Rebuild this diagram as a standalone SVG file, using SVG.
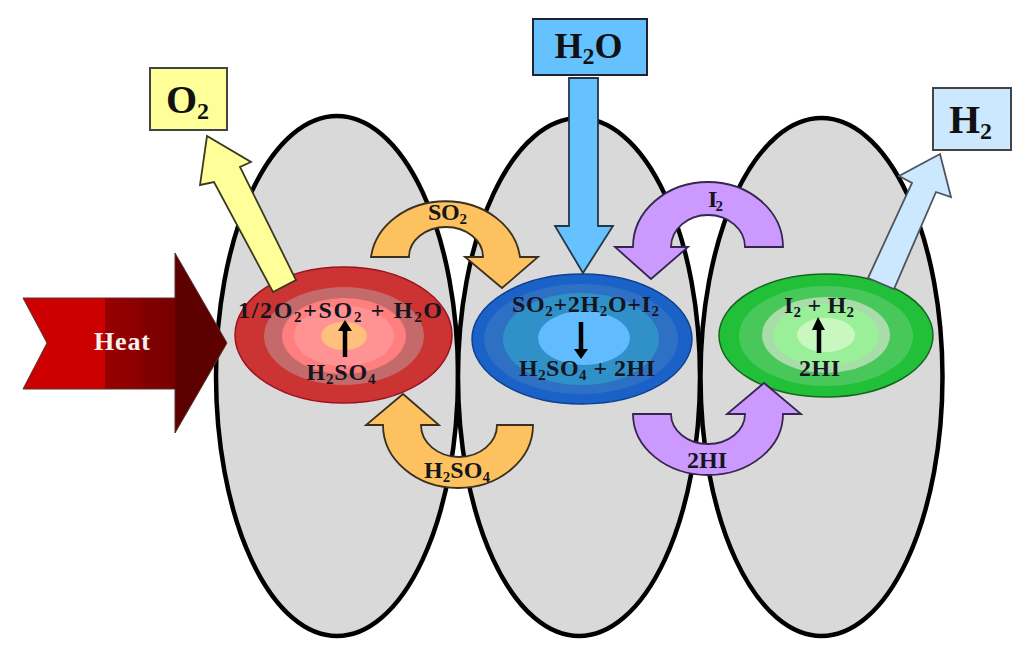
<svg xmlns="http://www.w3.org/2000/svg" width="1034" height="652" viewBox="0 0 1034 652">
<style>
text{font-family:"Liberation Serif","Times New Roman",serif;text-anchor:middle;fill:#15151f;font-weight:bold}
.big{fill:#d9d9d9;stroke:#000;stroke-width:4.5}
.l{font-size:24px}
.sub{font-size:15px}
.box{font-size:36px;fill:#111}
.boxs{font-size:24px}
.big2{font-size:40px}
.or{fill:#fdc25f;stroke:#3a3020;stroke-width:1.8}
.pu{fill:#cc99ff;stroke:#35264f;stroke-width:1.8}
.mini{stroke:#000;stroke-width:4.5;fill:none}
</style>
<defs>
<linearGradient id="heatg" gradientUnits="userSpaceOnUse" x1="23" y1="0" x2="227" y2="0">
<stop offset="0" stop-color="#cc0000"/><stop offset=".4" stop-color="#cc0000"/>
<stop offset=".405" stop-color="#960000"/><stop offset=".56" stop-color="#8c0000"/>
<stop offset=".61" stop-color="#800000"/><stop offset=".74" stop-color="#780000"/>
<stop offset=".75" stop-color="#5c0000"/><stop offset="1" stop-color="#5c0000"/>
</linearGradient>
</defs>
<rect width="1034" height="652" fill="#fff"/>
<g id="vessel-left"><ellipse class="big" cx="337" cy="376" rx="121" ry="260"/></g>
<g id="vessel-middle"><ellipse class="big" cx="579" cy="377" rx="121" ry="259"/></g>
<g id="vessel-right"><ellipse class="big" cx="821.5" cy="377" rx="121" ry="259"/></g>

<g id="reaction-red">
<ellipse cx="343.500" cy="335" rx="108.500" ry="68" fill="#cc3333" stroke="#a01020" stroke-width="1.500"/>
<ellipse cx="344" cy="336" rx="80" ry="49" fill="#c46a6a"/>
<ellipse cx="344" cy="336" rx="62" ry="38" fill="#ff7f7f"/>
<ellipse cx="344" cy="336" rx="50" ry="30" fill="#ff9393"/>
<ellipse cx="344" cy="336" rx="23" ry="14" fill="#ffc07c"/>
<text class="l" x="340" y="318" textLength="204">1/2O<tspan class="sub" dy="4">2</tspan><tspan dy="-4">+SO</tspan><tspan class="sub" dy="4">2</tspan><tspan dy="-4" xml:space="preserve"> + H</tspan><tspan class="sub" dy="4">2</tspan><tspan dy="-4">O</tspan></text>
<path class="mini" d="M345,357V326"/><path d="M338,331L345,320L352,331Z" fill="#000"/>
<text class="l" x="341" y="380" textLength="69">H<tspan class="sub" dy="4">2</tspan><tspan dy="-4">SO</tspan><tspan class="sub" dy="4">4</tspan></text>
</g>
<g id="reaction-blue">
<ellipse cx="582" cy="339" rx="110" ry="65" fill="#1a62c8" stroke="#0f4090" stroke-width="1.500"/>
<ellipse cx="581" cy="339" rx="97" ry="55" fill="#2d70c4"/>
<ellipse cx="581" cy="339" rx="78" ry="46" fill="#3090c8"/>
<ellipse cx="584" cy="338" rx="46" ry="27" fill="#60bcff"/>
<text class="l" x="585.500" y="312" textLength="147">SO<tspan class="sub" dy="4">2</tspan><tspan dy="-4">+2H</tspan><tspan class="sub" dy="4">2</tspan><tspan dy="-4">O+I</tspan><tspan class="sub" dy="4">2</tspan></text>
<path class="mini" d="M581,322V350"/><path d="M574,349L581,359L588,349Z" fill="#000"/>
<text class="l" x="587" y="376" textLength="136">H<tspan class="sub" dy="4">2</tspan><tspan dy="-4">SO</tspan><tspan class="sub" dy="4">4</tspan><tspan dy="-4" xml:space="preserve"> + 2HI</tspan></text>
</g>
<g id="reaction-green">
<ellipse cx="826" cy="335.500" rx="107" ry="61.500" fill="#22c038" stroke="#14661e" stroke-width="1.500"/>
<ellipse cx="826" cy="336" rx="87" ry="50" fill="#48c85a"/>
<ellipse cx="826" cy="335" rx="64" ry="38" fill="#a8dca8"/>
<ellipse cx="826" cy="335" rx="53" ry="31" fill="#99f099"/>
<ellipse cx="826" cy="335" rx="29" ry="17" fill="#c8f8c0"/>
<text class="l" x="819" y="313" textLength="70">I<tspan class="sub" dy="4">2</tspan><tspan dy="-4" xml:space="preserve"> + H</tspan><tspan class="sub" dy="4">2</tspan></text>
<path class="mini" d="M819,353V326"/><path d="M812,330L818,317L825,330Z" fill="#000"/>
<text class="l" x="819.500" y="376" textLength="41">2HI</text>
</g>

<g id="connectors">
<path d="M23,298H175V253L227,343L175,433V389H23L47,343Z" fill="url(#heatg)" stroke="#5a3030" stroke-width="1"/>
<path d="M273,292L296,280L240,167L251,162L207,136L200,185L214,182Z" fill="#ffff99" stroke="#3a3a20" stroke-width="1.800"/>
<path d="M569,78H598V226H613L583,273L555,226H569Z" fill="#66c2ff" stroke="#22384a" stroke-width="1.800"/>
<path d="M868,278L894,289L936,192L951,197L940,154L899,176L912,183Z" fill="#cce8ff" stroke="#4a5560" stroke-width="1.800"/>
<path class="or" d="M371,257A75,63 0 0 1 520,257H538L502,288L465,257H483A37,30 0 0 0 409,257Z"/>
<path class="or" d="M533,425A75,63 0 0 1 383,425H366L403,394L439,425H421A38,32 0 0 0 497,425Z"/>
<path class="pu" d="M783,247A75,65 0 0 0 633,247H615L651,279L688,247H671A37,32 0 0 1 745,247Z"/>
<path class="pu" d="M633,414A75,61 0 0 0 783,414H801L764,383L727,414H745A37,30 0 0 1 671,414Z"/>
</g>

<g id="label-heat"><text x="122" y="350" font-size="26" textLength="56" style="fill:#f8f0f0">Heat</text></g>
<g id="label-so2"><text class="l" x="447.500" y="220" textLength="39">SO<tspan class="sub" dy="4">2</tspan></text></g>
<g id="label-h2so4"><text class="l" x="457" y="478" textLength="66">H<tspan class="sub" dy="4">2</tspan><tspan dy="-4">SO</tspan><tspan class="sub" dy="4">4</tspan></text></g>
<g id="label-i2"><text class="l" x="715.500" y="207" textLength="15">I<tspan class="sub" dy="4">2</tspan></text></g>
<g id="label-2hi"><text class="l" x="707" y="468" textLength="40">2HI</text></g>

<g id="box-o2"><rect x="150" y="68" width="77" height="62" fill="#ffff99" stroke="#444" stroke-width="2"/><text class="box big2" x="187.500" y="113">O<tspan class="boxs" dy="6">2</tspan></text></g>
<g id="box-h2o"><rect x="533" y="19" width="114" height="56" fill="#66c2ff" stroke="#223" stroke-width="2"/><text class="box" x="588.500" y="58">H<tspan class="boxs" dy="6">2</tspan><tspan dy="-6">O</tspan></text></g>
<g id="box-h2"><rect x="933" y="88" width="78" height="62" fill="#cce8ff" stroke="#444" stroke-width="2"/><text class="box big2" x="970.500" y="133">H<tspan class="boxs" dy="6">2</tspan></text></g>
</svg>
